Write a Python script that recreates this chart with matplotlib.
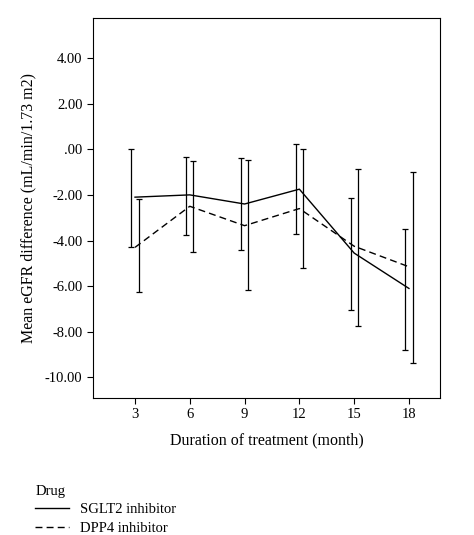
import matplotlib
matplotlib.use("Agg")
import matplotlib.pyplot as plt
from matplotlib.lines import Line2D

plt.rcParams['font.family'] = ['Liberation Serif', 'DejaVu Serif']

months = [3, 6, 9, 12, 15, 18]
sglt2_mean = [-2.1, -2.0, -2.4, -1.75, -4.55, -6.1]
sglt2_upper = [0.0, -0.35, -0.4, 0.25, -2.15, -3.5]
sglt2_lower = [-4.3, -3.75, -4.4, -3.7, -7.05, -8.8]
dpp4_mean = [-4.3, -2.5, -3.35, -2.6, -4.25, -5.15]
dpp4_upper = [-2.2, -0.5, -0.45, 0.0, -0.85, -1.0]
dpp4_lower = [-6.25, -4.5, -6.15, -5.2, -7.75, -9.35]
yticks = [4, 2, 0, -2, -4, -6, -8, -10]
ytick_labels = ['4.00', '2.00', '.00', '-2.00', '-4.00', '-6.00', '-8.00', '-10.00']

fig = plt.figure(figsize=(4.74, 5.35), dpi=100)
ax = fig.add_axes([93/474, 1-398/535, 347/474, 380/535])

off = 0.2
ax.plot(months, sglt2_mean, color='black', lw=1.0, ls='-')
ax.plot(months, dpp4_mean, color='black', lw=1.0, ls=(0, (5, 3)))
xs = [m - off for m in months]
ax.errorbar(xs, [(u+l)/2 for u, l in zip(sglt2_upper, sglt2_lower)],
            yerr=[(u-l)/2 for u, l in zip(sglt2_upper, sglt2_lower)],
            fmt='none', ecolor='black', elinewidth=0.9, capsize=2.5, capthick=0.9)
xd = [m + off for m in months]
ax.errorbar(xd, [(u+l)/2 for u, l in zip(dpp4_upper, dpp4_lower)],
            yerr=[(u-l)/2 for u, l in zip(dpp4_upper, dpp4_lower)],
            fmt='none', ecolor='black', elinewidth=0.9, capsize=2.5, capthick=0.9)

ax.set_xlim(0.7, 19.7)
ax.set_ylim(-10.9, 5.75)
ax.set_xticks(months)
ax.set_yticks(yticks)
ax.set_yticklabels(ytick_labels)
ax.tick_params(labelsize=10.5, length=4, width=0.8)
for s in ax.spines.values():
    s.set_linewidth(0.8)
ax.set_xlabel('Duration of treatment (month)', fontsize=11.5, labelpad=8)
ax.set_ylabel('Mean eGFR difference (mL/min/1.73 m2)', fontsize=11.5, labelpad=6)

handles = [Line2D([], [], color='black', lw=1.0),
           Line2D([], [], color='black', lw=1.0, ls=(0, (5, 3)))]
fig.legend(handles, ['SGLT2 inhibitor', 'DPP4 inhibitor'], title='Drug',
           loc='upper left', bbox_to_anchor=(22/474, 1-472/535), frameon=False,
           fontsize=10.5, title_fontsize=10.5, handlelength=2.3, alignment='left',
           labelspacing=0.35)

fig.savefig('out.png', dpi=100)
